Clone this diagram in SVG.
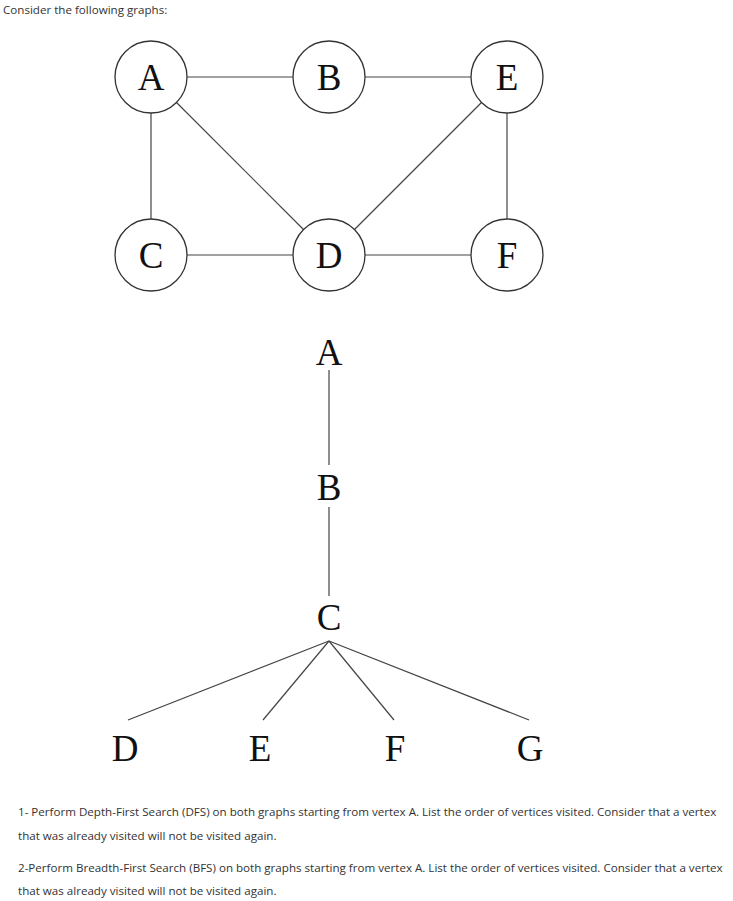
<svg xmlns="http://www.w3.org/2000/svg" width="733" height="901" viewBox="0 0 733 901">
<style>
.n{fill:#fff;stroke:#333;stroke-width:1.3}
.l{stroke:#444;stroke-width:1.2;fill:none}
.t{font-family:"Liberation Serif",serif;font-size:37px;fill:#111;text-anchor:middle}
.p{font-family:"Open Sans",sans-serif;font-size:11.6px;fill:#333}
</style>
<rect width="733" height="901" fill="#fff"/>
<text class="p" x="3" y="14">Consider the following graphs:</text>
<g id="connectors">
<line class="l" x1="187" y1="77" x2="293" y2="77"/>
<line class="l" x1="365" y1="77" x2="471" y2="77"/>
<line class="l" x1="151" y1="113" x2="151" y2="219"/>
<line class="l" x1="176" y1="102" x2="304" y2="230"/>
<line class="l" x1="482" y1="102" x2="354" y2="230"/>
<line class="l" x1="507" y1="113" x2="507" y2="219"/>
<line class="l" x1="187" y1="255" x2="293" y2="255"/>
<line class="l" x1="365" y1="255" x2="471" y2="255"/>
<line class="l" x1="329" y1="370" x2="329" y2="465"/>
<line class="l" x1="329" y1="507" x2="329" y2="596"/>
<line class="l" x1="329" y1="641" x2="128" y2="720"/>
<line class="l" x1="329" y1="641" x2="263" y2="720"/>
<line class="l" x1="329" y1="641" x2="394" y2="720"/>
<line class="l" x1="329" y1="641" x2="529" y2="720"/>
</g>
<g id="gA"><circle class="n" cx="151" cy="77" r="36"/><text class="t" x="151" y="90">A</text></g>
<g id="gB"><circle class="n" cx="329" cy="77" r="36"/><text class="t" x="329" y="90">B</text></g>
<g id="gE"><circle class="n" cx="507" cy="77" r="36"/><text class="t" x="507" y="90">E</text></g>
<g id="gC"><circle class="n" cx="151" cy="255" r="36"/><text class="t" x="151" y="268">C</text></g>
<g id="gD"><circle class="n" cx="329" cy="255" r="36"/><text class="t" x="329" y="268">D</text></g>
<g id="gF"><circle class="n" cx="507" cy="255" r="36"/><text class="t" x="507" y="268">F</text></g>
<g id="tA"><text class="t" x="329" y="365">A</text></g>
<g id="tB"><text class="t" x="329" y="500">B</text></g>
<g id="tC"><text class="t" x="329" y="630">C</text></g>
<g id="tD"><text class="t" x="125" y="761">D</text></g>
<g id="tE"><text class="t" x="260" y="761">E</text></g>
<g id="tF"><text class="t" x="395" y="761">F</text></g>
<g id="tG"><text class="t" x="530" y="761">G</text></g>
<text class="p" x="18" y="816">1- Perform Depth-First Search (DFS) on both graphs starting from vertex A. List the order of vertices visited. Consider that a vertex</text>
<text class="p" x="18" y="840">that was already visited will not be visited again.</text>
<text class="p" x="18" y="872">2-Perform Breadth-First Search (BFS) on both graphs starting from vertex A. List the order of vertices visited. Consider that a vertex</text>
<text class="p" x="18" y="895">that was already visited will not be visited again.</text>
</svg>
